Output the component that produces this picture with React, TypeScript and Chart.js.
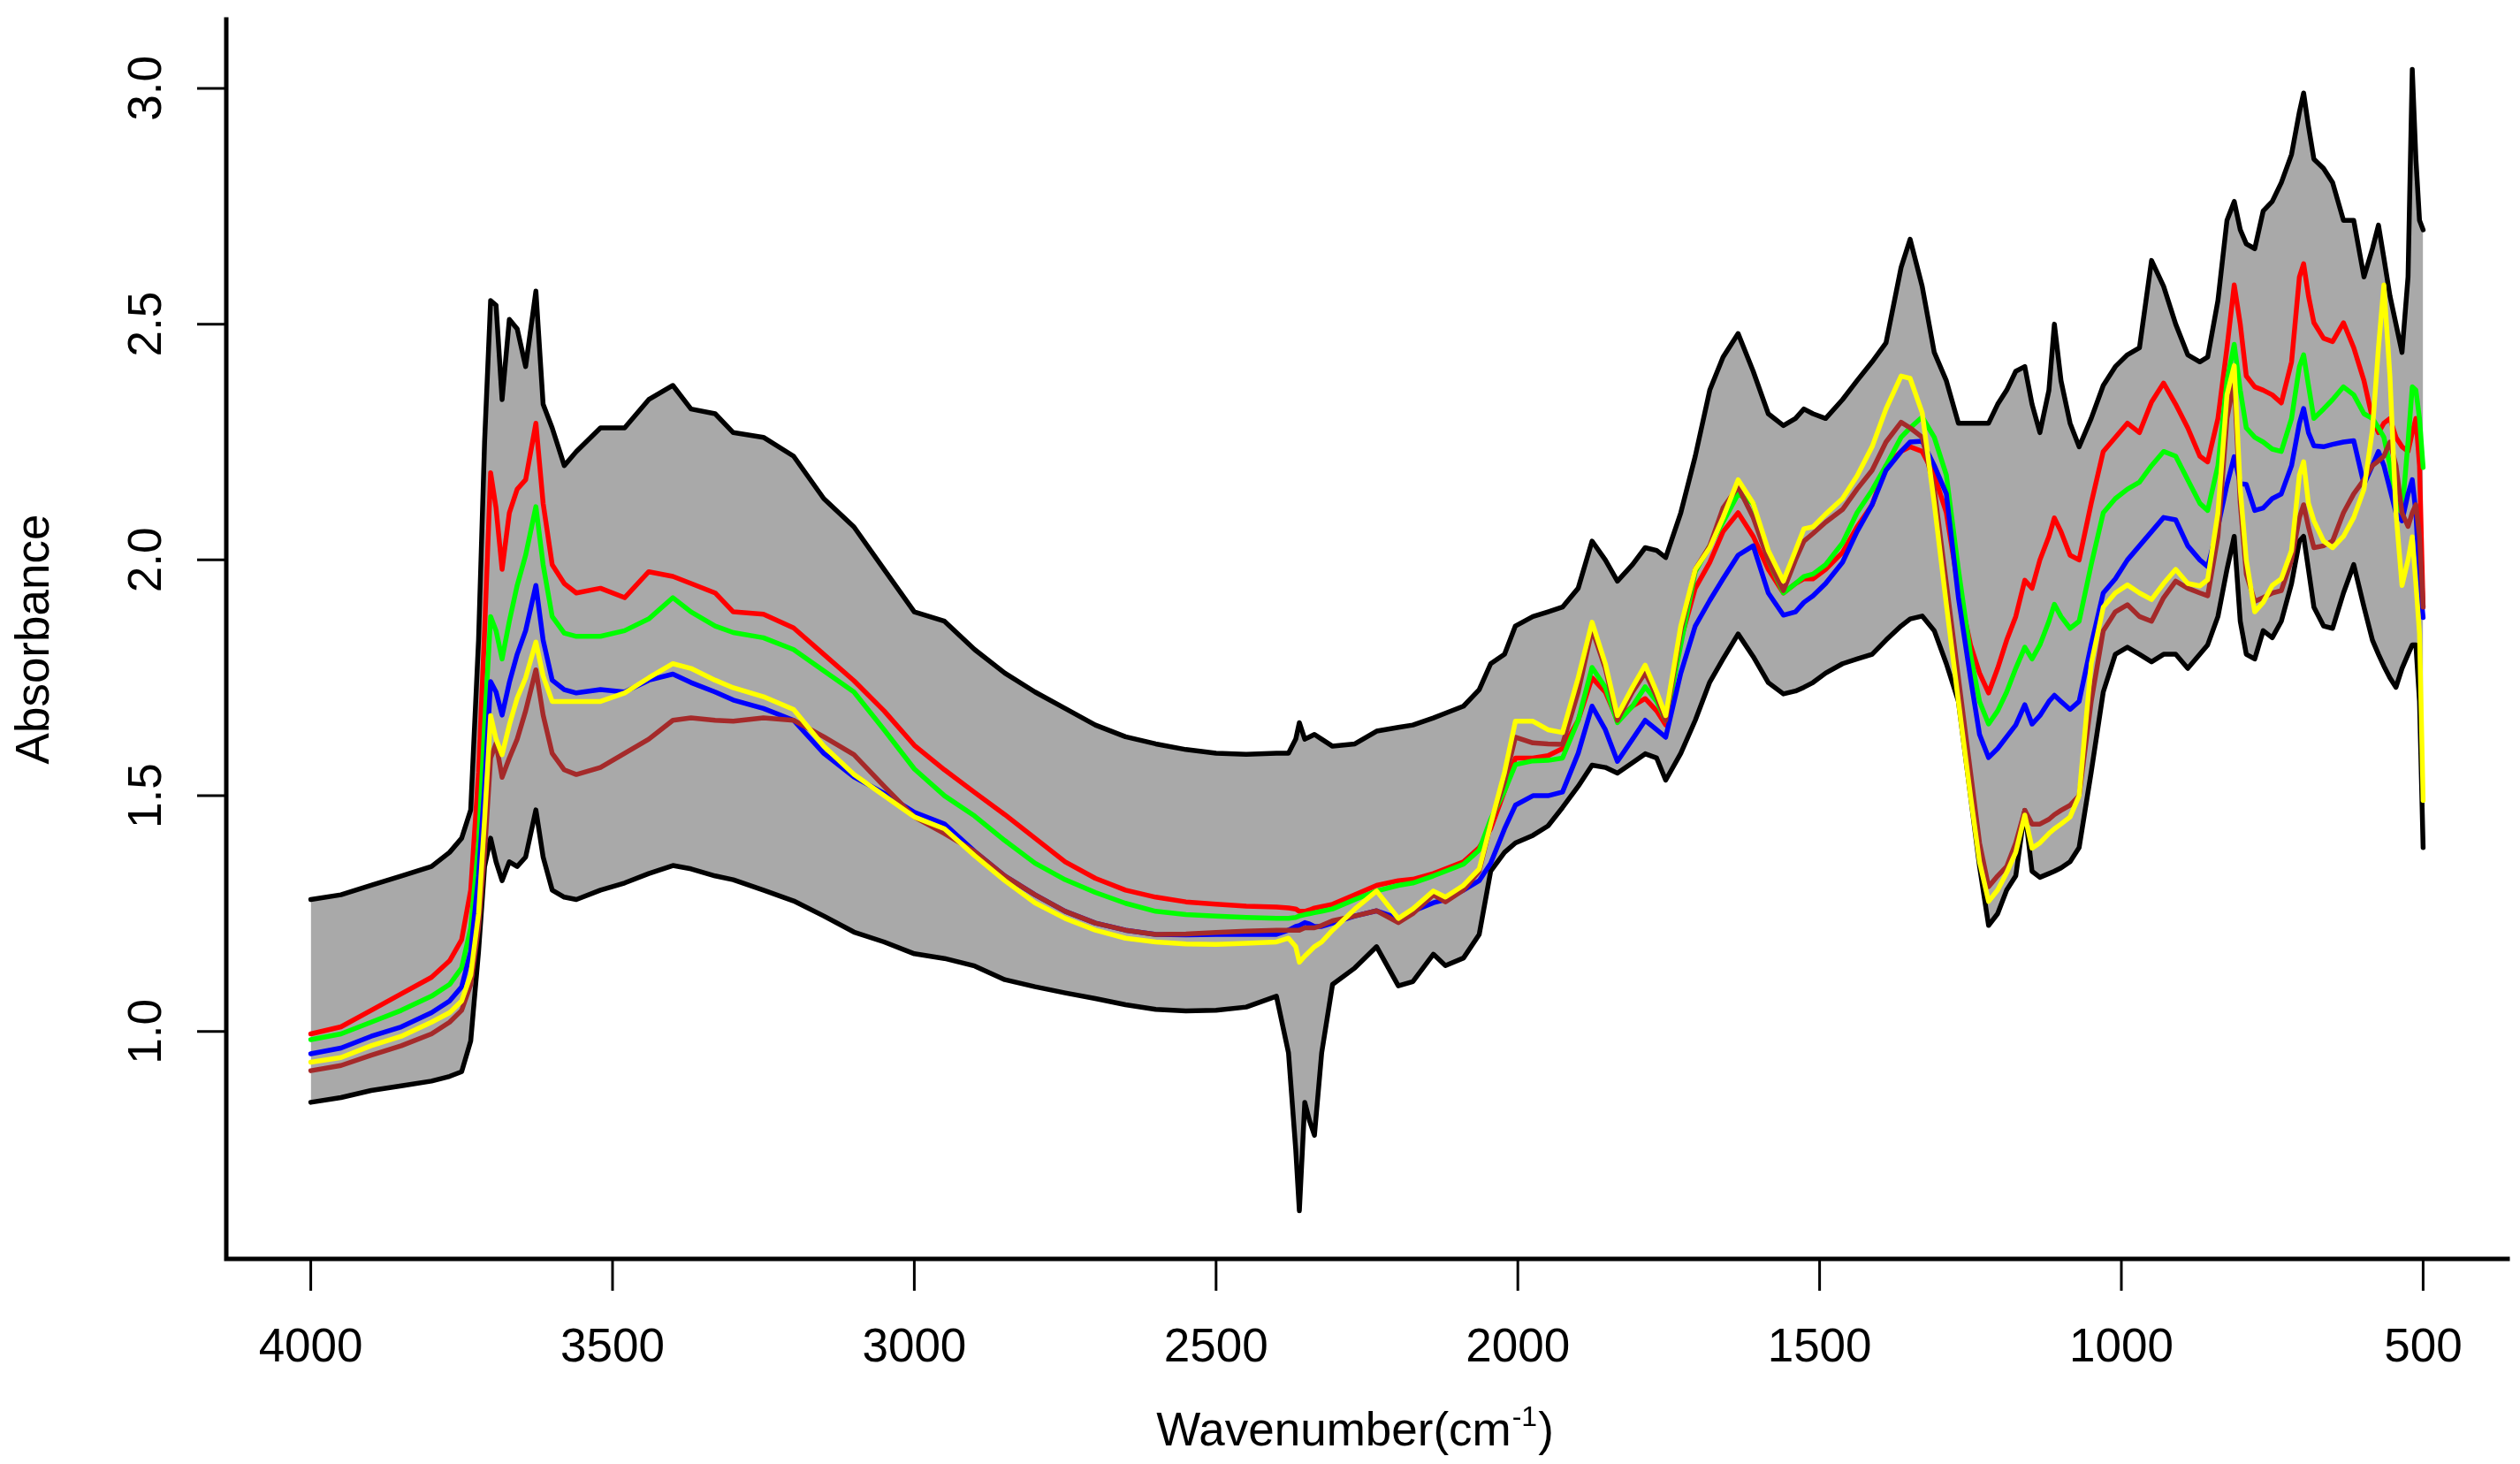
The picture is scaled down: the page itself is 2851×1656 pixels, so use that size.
import React, { useEffect, useRef } from 'react';
import { Chart, registerables } from 'chart.js';

Chart.register(...registerables);

const W = 2851;
const H = 1656;

// Wavenumber grid (cm-1), shared by every curve
const wavenumbers = [
  4000, 3950, 3900, 3850, 3800, 3770, 3750, 3735, 3722, 3712,
  3702, 3693, 3683, 3671, 3658, 3644, 3627, 3615, 3600, 3580,
  3560, 3520, 3480, 3440, 3400, 3370, 3330, 3300, 3250, 3200,
  3150, 3100, 3050, 3000, 2950, 2900, 2850, 2800, 2750, 2700, 2650, 2600, 2550, 2500, 2450, 2400,
  2380, 2368, 2362, 2353, 2345, 2337, 2325, 2307,
  2270, 2234, 2198, 2174, 2140, 2120, 2090, 2064, 2045, 2022,
  2004, 1975, 1950, 1926, 1900, 1877, 1855, 1835, 1810, 1789,
  1770, 1755, 1730, 1706, 1682, 1660, 1635, 1610, 1585, 1560,
  1540, 1526, 1511, 1490, 1462, 1438, 1413, 1390, 1365, 1350,
  1330, 1310, 1290, 1270, 1250, 1235, 1220, 1205, 1190, 1175,
  1160, 1148, 1135, 1120, 1111, 1100, 1085, 1070, 1050, 1030,
  1010, 990, 970, 950, 930, 910, 890, 870, 857, 840,
  825, 813, 803, 793, 779, 765, 750, 735, 718, 705,
  698, 690, 681, 665, 650, 632, 615, 598, 584, 574,
  565, 555, 545, 535, 525, 518, 512, 506, 500,
];

// Upper envelope (black)
const upperBound = [
  1.28, 1.29, 1.31, 1.33, 1.35, 1.38, 1.41, 1.47, 1.83, 2.25,
  2.55, 2.54, 2.34, 2.51, 2.49, 2.41, 2.57, 2.33, 2.28, 2.20,
  2.23, 2.28, 2.28, 2.34, 2.37, 2.32, 2.31, 2.27, 2.26, 2.22,
  2.13, 2.07, 1.98, 1.89, 1.87, 1.81, 1.76, 1.72, 1.685, 1.65, 1.625, 1.61, 1.598, 1.59, 1.588, 1.59,
  1.59, 1.62, 1.655, 1.62, 1.625, 1.63, 1.62, 1.605,
  1.61, 1.637, 1.645, 1.65, 1.665, 1.675, 1.69, 1.725, 1.78, 1.80,
  1.86, 1.88, 1.89, 1.90, 1.94, 2.04, 2.00, 1.955, 1.99, 2.026,
  2.02, 2.005, 2.10, 2.22, 2.36, 2.43, 2.48, 2.40, 2.31, 2.285,
  2.30, 2.32, 2.31, 2.30, 2.34, 2.38, 2.42, 2.46, 2.62, 2.68,
  2.58, 2.44, 2.38, 2.29, 2.29, 2.29, 2.29, 2.33, 2.36, 2.40,
  2.41, 2.33, 2.27, 2.36, 2.50, 2.38, 2.29, 2.24, 2.30, 2.37,
  2.41, 2.435, 2.45, 2.635, 2.58, 2.50, 2.435, 2.42, 2.43, 2.55,
  2.72, 2.76, 2.70, 2.67, 2.66, 2.74, 2.76, 2.80, 2.86, 2.95,
  2.99, 2.92, 2.85, 2.83, 2.80, 2.72, 2.72, 2.60, 2.66, 2.71,
  2.64, 2.56, 2.50, 2.44, 2.60, 3.04, 2.85, 2.72, 2.70,
];

// Lower envelope (black)
const lowerBound = [
  0.85, 0.86, 0.875, 0.885, 0.895, 0.905, 0.915, 0.98, 1.17, 1.35,
  1.41, 1.36, 1.32, 1.36, 1.35, 1.37, 1.47, 1.37, 1.30, 1.285,
  1.28, 1.30, 1.315, 1.335, 1.352, 1.345, 1.33, 1.322, 1.30, 1.277,
  1.245, 1.211, 1.19, 1.165, 1.155, 1.139, 1.11, 1.095, 1.082, 1.07, 1.057, 1.047, 1.044, 1.045, 1.052, 1.075,
  0.955, 0.75, 0.62, 0.85, 0.81, 0.78, 0.955, 1.10,
  1.135, 1.18, 1.097, 1.106, 1.164, 1.14, 1.156, 1.206, 1.34, 1.38,
  1.40, 1.416, 1.436, 1.475, 1.52, 1.565, 1.56, 1.548, 1.57, 1.589,
  1.58, 1.533, 1.59, 1.66, 1.741, 1.79, 1.843, 1.795, 1.74, 1.716,
  1.722, 1.73, 1.74, 1.76, 1.78, 1.79, 1.80, 1.83, 1.86, 1.875,
  1.881, 1.85, 1.78, 1.70, 1.50, 1.35, 1.225, 1.25, 1.30, 1.33,
  1.469, 1.34, 1.327, 1.335, 1.34, 1.347, 1.36, 1.39, 1.55, 1.72,
  1.80, 1.815, 1.80, 1.784, 1.80, 1.80, 1.77, 1.80, 1.82, 1.88,
  1.98, 2.05, 1.87, 1.80, 1.79, 1.85, 1.835, 1.87, 1.95, 2.04,
  2.05, 1.98, 1.90, 1.86, 1.855, 1.93, 1.99, 1.90, 1.83, 1.80,
  1.775, 1.75, 1.73, 1.77, 1.80, 1.82, 1.82, 1.70, 1.39,
];

const redSeries = [
  0.995, 1.01, 1.045, 1.08, 1.115, 1.15, 1.195, 1.30, 1.55, 1.85,
  2.185, 2.11, 1.98, 2.10, 2.15, 2.17, 2.29, 2.12, 1.99, 1.95,
  1.93, 1.94, 1.92, 1.975, 1.965, 1.95, 1.93, 1.89, 1.885, 1.856,
  1.80, 1.744, 1.68, 1.607, 1.555, 1.507, 1.46, 1.41, 1.36, 1.325, 1.30, 1.285, 1.275, 1.27, 1.266, 1.264,
  1.262, 1.26, 1.255, 1.255, 1.258, 1.262, 1.265, 1.27,
  1.29, 1.31, 1.32, 1.323, 1.335, 1.345, 1.36, 1.39, 1.43, 1.51,
  1.58, 1.58, 1.585, 1.60, 1.66, 1.75, 1.72, 1.66, 1.69, 1.706,
  1.68, 1.65, 1.83, 1.94, 1.995, 2.06, 2.10, 2.05, 1.98, 1.93,
  1.95, 1.96, 1.96, 1.98, 2.016, 2.07, 2.117, 2.20, 2.23, 2.24,
  2.23, 2.18, 2.10, 1.94, 1.82, 1.76, 1.718, 1.77, 1.83, 1.88,
  1.957, 1.94, 2.00, 2.05, 2.089, 2.06, 2.01, 2.00, 2.12, 2.23,
  2.26, 2.29, 2.27, 2.335, 2.375, 2.33, 2.28, 2.22, 2.208, 2.30,
  2.45, 2.583, 2.50, 2.39, 2.367, 2.36, 2.35, 2.333, 2.42, 2.60,
  2.628, 2.56, 2.503, 2.47, 2.463, 2.503, 2.45, 2.38, 2.30, 2.27,
  2.29, 2.30, 2.26, 2.24, 2.23, 2.27, 2.30, 2.20, 1.90,
];

const greenSeries = [
  0.983, 0.995, 1.02, 1.045, 1.075, 1.10, 1.135, 1.22, 1.40, 1.65,
  1.88, 1.85, 1.79, 1.87, 1.946, 2.01, 2.113, 1.99, 1.88, 1.845,
  1.838, 1.838, 1.85, 1.875, 1.92, 1.89, 1.86, 1.846, 1.835, 1.81,
  1.765, 1.72, 1.64, 1.557, 1.50, 1.457, 1.405, 1.357, 1.322, 1.295, 1.272, 1.255, 1.248, 1.245, 1.242, 1.24,
  1.24, 1.242, 1.245, 1.248, 1.25, 1.252, 1.255, 1.26,
  1.28, 1.298, 1.31, 1.315, 1.33, 1.34, 1.355, 1.385, 1.45, 1.51,
  1.566, 1.574, 1.575, 1.58, 1.66, 1.772, 1.73, 1.655, 1.69, 1.731,
  1.70, 1.66, 1.82, 1.975, 2.03, 2.08, 2.14, 2.12, 2.00, 1.93,
  1.95, 1.965, 1.97, 1.99, 2.036, 2.10, 2.148, 2.20, 2.26, 2.28,
  2.303, 2.26, 2.18, 1.98, 1.80, 1.70, 1.652, 1.68, 1.72, 1.77,
  1.815, 1.79, 1.82, 1.87, 1.906, 1.88, 1.855, 1.87, 1.99, 2.10,
  2.13, 2.15, 2.165, 2.20, 2.23, 2.22, 2.17, 2.12, 2.105, 2.20,
  2.38, 2.457, 2.36, 2.28, 2.26, 2.25, 2.235, 2.23, 2.30, 2.41,
  2.435, 2.37, 2.30, 2.32, 2.34, 2.367, 2.35, 2.31, 2.30, 2.28,
  2.26, 2.20, 2.12, 2.10, 2.25, 2.367, 2.36, 2.30, 2.196,
];

const blueSeries = [
  0.953, 0.965, 0.99, 1.01, 1.04, 1.065, 1.095, 1.17, 1.33, 1.52,
  1.742, 1.72, 1.671, 1.74, 1.80, 1.85, 1.946, 1.83, 1.745, 1.725,
  1.718, 1.725, 1.72, 1.745, 1.758, 1.74, 1.72, 1.703, 1.685, 1.66,
  1.59, 1.54, 1.505, 1.465, 1.44, 1.382, 1.33, 1.29, 1.255, 1.23, 1.215, 1.206, 1.205, 1.206, 1.206, 1.206,
  1.215, 1.223, 1.225, 1.231, 1.228, 1.223, 1.223, 1.23,
  1.245, 1.256, 1.24, 1.255, 1.273, 1.28, 1.30, 1.32, 1.357, 1.43,
  1.48, 1.50, 1.50, 1.508, 1.59, 1.69, 1.64, 1.573, 1.62, 1.66,
  1.64, 1.624, 1.76, 1.86, 1.914, 1.96, 2.01, 2.03, 1.93, 1.883,
  1.89, 1.91, 1.924, 1.95, 1.995, 2.06, 2.117, 2.19, 2.23, 2.25,
  2.252, 2.20, 2.14, 1.92, 1.75, 1.63, 1.581, 1.60, 1.625, 1.65,
  1.693, 1.652, 1.67, 1.70, 1.713, 1.70, 1.683, 1.70, 1.82, 1.93,
  1.96, 2.00, 2.03, 2.06, 2.09, 2.085, 2.03, 2.00, 1.986, 2.07,
  2.16, 2.219, 2.162, 2.16, 2.105, 2.11, 2.13, 2.14, 2.20, 2.29,
  2.321, 2.27, 2.242, 2.24, 2.245, 2.25, 2.253, 2.16, 2.20, 2.23,
  2.20, 2.15, 2.10, 2.083, 2.14, 2.17, 2.10, 1.958, 1.878,
];

const yellowSeries = [
  0.935, 0.945, 0.97, 0.99, 1.02, 1.04, 1.065, 1.12, 1.25, 1.45,
  1.67, 1.62, 1.587, 1.65, 1.707, 1.75, 1.826, 1.754, 1.70, 1.70,
  1.70, 1.70, 1.718, 1.75, 1.78, 1.77, 1.745, 1.729, 1.71, 1.683,
  1.605, 1.545, 1.50, 1.455, 1.43, 1.373, 1.32, 1.273, 1.24, 1.215, 1.198, 1.19, 1.186, 1.185, 1.187, 1.19,
  1.198, 1.18, 1.147, 1.16, 1.17, 1.18, 1.19, 1.215,
  1.26, 1.298, 1.24, 1.26, 1.298, 1.285, 1.31, 1.345, 1.44, 1.55,
  1.658, 1.658, 1.64, 1.634, 1.75, 1.868, 1.78, 1.67, 1.73, 1.777,
  1.72, 1.67, 1.86, 1.98, 2.026, 2.09, 2.17, 2.12, 2.02, 1.955,
  2.02, 2.066, 2.07, 2.097, 2.13, 2.178, 2.24, 2.32, 2.39, 2.385,
  2.312, 2.12, 1.906, 1.70, 1.50, 1.36, 1.276, 1.30, 1.337, 1.38,
  1.459, 1.389, 1.40, 1.42, 1.43, 1.44, 1.455, 1.50, 1.78, 1.90,
  1.93, 1.947, 1.93, 1.916, 1.95, 1.98, 1.95, 1.945, 1.958, 2.10,
  2.35, 2.412, 2.15, 2.00, 1.89, 1.91, 1.946, 1.96, 2.02, 2.18,
  2.208, 2.12, 2.083, 2.04, 2.026, 2.05, 2.09, 2.15, 2.276, 2.45,
  2.583, 2.389, 2.10, 1.946, 2.00, 2.049, 1.95, 1.844, 1.49,
];

const brownSeries = [
  0.917, 0.928, 0.95, 0.97, 0.995, 1.02, 1.045, 1.10, 1.22, 1.38,
  1.58, 1.611, 1.539, 1.58, 1.62, 1.68, 1.767, 1.671, 1.59, 1.555,
  1.545, 1.56, 1.59, 1.62, 1.66, 1.665, 1.66, 1.658, 1.665, 1.66,
  1.625, 1.587, 1.52, 1.455, 1.42, 1.382, 1.33, 1.29, 1.255, 1.23, 1.215, 1.206, 1.207, 1.21, 1.213, 1.215,
  1.215, 1.215, 1.215, 1.22, 1.22, 1.22, 1.225, 1.235,
  1.245, 1.256, 1.231, 1.25, 1.29, 1.275, 1.30, 1.34, 1.44, 1.53,
  1.624, 1.612, 1.61, 1.609, 1.72, 1.853, 1.77, 1.66, 1.72, 1.761,
  1.71, 1.66, 1.85, 1.98, 2.03, 2.11, 2.155, 2.09, 2.00, 1.935,
  2.00, 2.04, 2.056, 2.08, 2.107, 2.15, 2.19, 2.25, 2.292, 2.28,
  2.26, 2.15, 1.95, 1.75, 1.55, 1.40, 1.307, 1.33, 1.35, 1.40,
  1.469, 1.44, 1.44, 1.45, 1.46, 1.469, 1.48, 1.50, 1.70, 1.85,
  1.89, 1.905, 1.88, 1.87, 1.92, 1.955, 1.94, 1.93, 1.924, 2.05,
  2.30, 2.38, 2.12, 1.97, 1.912, 1.92, 1.93, 1.935, 2.00, 2.09,
  2.117, 2.07, 2.026, 2.03, 2.04, 2.10, 2.14, 2.17, 2.20, 2.21,
  2.22, 2.25, 2.20, 2.10, 2.071, 2.10, 2.117, 2.05, 1.90,
];

const xTickValues = [4000, 3500, 3000, 2500, 2000, 1500, 1000, 500];
const yTickValues = [1.0, 1.5, 2.0, 2.5, 3.0];
const yTickLabels = ['1.0', '1.5', '2.0', '2.5', '3.0'];
const yTitle = 'Absorbance';
const xTitleMain = 'Wavenumber(cm';
const xTitleSup = '-1';
const xTitleEnd = ')';

const FONT = '"Liberation Sans", Arial, Helvetica, sans-serif';

export default function App() {
  const ref = useRef<HTMLCanvasElement>(null);

  useEffect(() => {
    if (!ref.current) return;
    const pts = (arr: number[]) => wavenumbers.map((x, i) => ({ x, y: arr[i] }));

    const axesPlugin = {
      id: 'rStyleAxes',
      afterDraw(chart: any) {
        const ctx = chart.ctx as CanvasRenderingContext2D;
        const { left, right, top, bottom } = chart.chartArea;
        const xs = chart.scales.x;
        const ys = chart.scales.y;
        ctx.save();
        ctx.strokeStyle = '#000';
        ctx.fillStyle = '#000';
        // L-shaped frame
        ctx.lineWidth = 5;
        ctx.lineCap = 'square';
        ctx.beginPath();
        ctx.moveTo(left, top);
        ctx.lineTo(left, bottom);
        ctx.lineTo(right, bottom);
        ctx.stroke();
        // ticks
        ctx.lineWidth = 3;
        ctx.lineCap = 'butt';
        xTickValues.forEach((v) => {
          const px = xs.getPixelForValue(v);
          ctx.beginPath();
          ctx.moveTo(px, bottom);
          ctx.lineTo(px, bottom + 36);
          ctx.stroke();
        });
        yTickValues.forEach((v) => {
          const py = ys.getPixelForValue(v);
          ctx.beginPath();
          ctx.moveTo(left, py);
          ctx.lineTo(left - 33, py);
          ctx.stroke();
        });
        // tick labels
        ctx.font = `53px ${FONT}`;
        ctx.textAlign = 'center';
        ctx.textBaseline = 'alphabetic';
        xTickValues.forEach((v) => {
          ctx.fillText(String(v), xs.getPixelForValue(v), 1540);
        });
        yTickValues.forEach((v, i) => {
          ctx.save();
          ctx.translate(182, ys.getPixelForValue(v));
          ctx.rotate(-Math.PI / 2);
          ctx.fillText(yTickLabels[i], 0, 0);
          ctx.restore();
        });
        // y title
        ctx.save();
        ctx.translate(55, (top + bottom) / 2);
        ctx.rotate(-Math.PI / 2);
        ctx.fillText(yTitle, 0, 0);
        ctx.restore();
        // x title with superscript
        ctx.textAlign = 'left';
        ctx.font = `53px ${FONT}`;
        const w1 = ctx.measureText(xTitleMain).width;
        const w3 = ctx.measureText(xTitleEnd).width;
        ctx.font = `32px ${FONT}`;
        const w2 = ctx.measureText(xTitleSup).width;
        const total = w1 + w2 + w3 + 2;
        const startX = 1533 - total / 2;
        const base = 1635;
        ctx.font = `53px ${FONT}`;
        ctx.fillText(xTitleMain, startX, base);
        ctx.font = `32px ${FONT}`;
        ctx.fillText(xTitleSup, startX + w1 + 1, base - 22);
        ctx.font = `53px ${FONT}`;
        ctx.fillText(xTitleEnd, startX + w1 + w2 + 2, base);
        ctx.restore();
      },
    };

    const line = (label: string, arr: number[], color: string, order: number) => ({
      label,
      data: pts(arr),
      borderColor: color,
      backgroundColor: color,
      borderWidth: 5.5,
      pointRadius: 0,
      fill: false,
      order,
    });

    const chart = new Chart(ref.current, {
      type: 'line',
      data: {
        datasets: [
          line('yellow', yellowSeries, '#FFFF00', 1),
          line('brown', brownSeries, '#A52A2A', 2),
          line('blue', blueSeries, '#0000FF', 3),
          line('green', greenSeries, '#00FF00', 4),
          line('red', redSeries, '#FF0000', 5),
          {
            label: 'upper',
            data: pts(upperBound),
            borderColor: '#000000',
            backgroundColor: '#A9A9A9',
            borderWidth: 5.5,
            pointRadius: 0,
            fill: '+1',
            order: 6,
          },
          line('lower', lowerBound, '#000000', 7),
        ],
      },
      options: {
        responsive: false,
        animation: false,
        devicePixelRatio: 1,
        layout: { padding: { left: 256, right: 14, top: 22, bottom: 232 } },
        scales: {
          x: { type: 'linear', reverse: true, min: 360, max: 4140, display: false },
          y: { type: 'linear', min: 0.518, max: 3.146, display: false },
        },
        elements: {
          line: { tension: 0, borderJoinStyle: 'round', borderCapStyle: 'round' },
          point: { radius: 0 },
        },
        plugins: {
          legend: { display: false },
          tooltip: { enabled: false },
          filler: { drawTime: 'beforeDatasetsDraw' },
        },
      } as any,
      plugins: [axesPlugin],
    });
    return () => chart.destroy();
  }, []);

  return (
    <div style={{ position: 'absolute', left: 0, top: 0, width: W, height: H, background: '#fff' }}>
      <canvas ref={ref} width={W} height={H} style={{ width: W, height: H, display: 'block' }} />
    </div>
  );
}
